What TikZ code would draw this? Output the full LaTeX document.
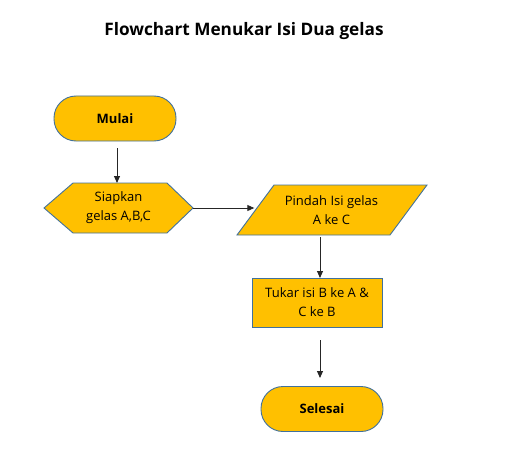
\documentclass[tikz,border=0pt]{standalone}
\usepackage{fontspec}
\setmainfont{Open Sans}
\usetikzlibrary{arrows.meta}
\definecolor{boxfill}{HTML}{FFC000}
\definecolor{boxline}{HTML}{41719C}
\definecolor{arrowc}{HTML}{262626}
\tikzset{
  shapeline/.style={draw=boxline, fill=boxfill, line width=0.9pt},
  txt/.style={inner sep=0pt, align=center, font=\fontsize{13}{19}\selectfont},
  term/.style={shapeline, rounded corners=22pt, minimum width=122pt, minimum height=45pt, inner sep=0pt, align=center, font=\fontsize{13}{19}\selectfont\bfseries},
  proc/.style={shapeline, minimum width=130pt, minimum height=49pt, inner sep=0pt, align=center, font=\fontsize{13}{19}\selectfont},
  flow/.style={draw=arrowc, line width=0.9pt, -{Triangle[length=7pt,width=6pt]}}
}
\begin{document}
\begin{tikzpicture}[x=1pt,y=-1pt]
\useasboundingbox (0,0) rectangle (509,452);
% title
\node[font=\fontsize{17.2}{20}\selectfont\bfseries] (title) at (244,31) {Flowchart Menukar Isi Dua gelas};
% start
\node[term] (mulai) at (115,118.5) {Mulai};
% hexagon
\path[shapeline] (44,208) -- (73,183) -- (167,183) -- (193,208) -- (167,233) -- (73,233) -- cycle;
\node[txt, minimum width=149pt, minimum height=50pt] (siap) at (118.5,208) {Siapkan\\gelas A,B,C};
% parallelogram
\path[shapeline] (274,185) -- (427,185) -- (390,235) -- (237,235) -- cycle;
\node[txt, minimum width=154pt, minimum height=50pt] (pindah) at (331.5,210) {Pindah Isi gelas\\A ke C};
% process
\node[proc] (tukar) at (317,302.5) {Tukar isi B ke A \&\\C ke B};
% end
\node[term] (selesai) at (322,409) {Selesai};
% connectors
\coordinate (a1) at (117,148);
\coordinate (a2) at (117,183);
\draw[flow] (a1) -- (a2);
\draw[flow] (siap.east) -- (siap.east -| pindah.west);
\coordinate (b1) at (320,237);
\coordinate (b2) at (320,278);
\draw[flow] (b1) -- (b2);
\coordinate (c1) at (320,340);
\coordinate (c2) at (320,378);
\draw[flow] (c1) -- (c2);
\end{tikzpicture}
\end{document}
